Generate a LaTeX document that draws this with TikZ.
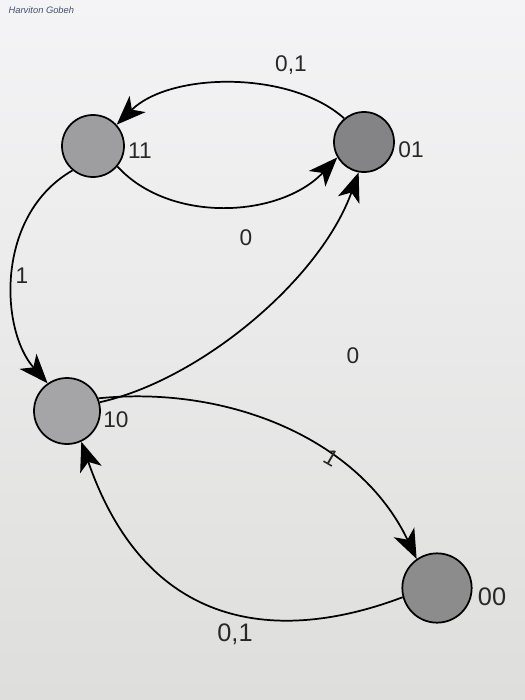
\documentclass[tikz,border=0pt]{standalone}
\usepackage{fontspec}
\setmainfont{Liberation Sans}
\usetikzlibrary{arrows.meta}
\definecolor{paperTop}{RGB}{244,244,246}
\definecolor{paperBot}{RGB}{222,222,220}
\definecolor{fillA}{RGB}{158,158,160}
\definecolor{fillB}{RGB}{132,132,134}
\definecolor{fillC}{RGB}{165,165,167}
\definecolor{fillD}{RGB}{140,140,140}
\definecolor{inkText}{RGB}{40,40,40}
\definecolor{pen}{RGB}{70,80,110}
\tikzset{
  state/.style={circle, draw=black, line width=1.3pt, inner sep=0pt},
  edge/.style={line width=1.3pt, -{Stealth[length=22pt,width=17pt,inset=6pt]}},
  lbl/.style={font=\fontsize{17}{19}\selectfont, text=inkText, inner sep=0pt},
  biglbl/.style={font=\fontsize{19}{21}\selectfont, text=inkText, inner sep=0pt},
}
\begin{document}
\begin{tikzpicture}[x=0.75pt,y=-0.75pt]
\useasboundingbox (0,0) rectangle (525,700);
\shade[top color=paperTop, bottom color=paperBot] (0,0) rectangle (525,700);
\node[font=\fontsize{7}{8}\selectfont\itshape, text=pen, anchor=west] (sig) at (4,10) {Harviton Gobeh};

\node[state, fill=fillA, minimum size=46.5pt] (n11) at (93,146) {};
\node[state, fill=fillB, minimum size=45pt] (n01) at (364,142) {};
\node[state, fill=fillC, minimum size=49.5pt] (n10) at (67,411) {};
\node[state, fill=fillD, minimum size=52pt] (n00) at (437,588) {};

\node[lbl] (t11) at (140,151) {11};
\node[lbl] (t01) at (411,150) {01};
\node[lbl] (t10) at (116,420) {10};
\node[biglbl] (t00) at (492,597) {00};

\draw[edge] (n01.130) .. controls (290,70) and (170,72) .. (n11.42);
\draw[edge] (n11.-40) .. controls (170,224) and (280,218) .. (n01.-150);
\draw[edge] (n11.-130) .. controls (-5,215) and (0,330) .. (n10.125);
\draw[edge] (n10.15) .. controls (200,380) and (320,280) .. (n01.-100);
\draw[edge] (n10.22) .. controls (230,385) and (360,440) .. (n00.125);
\draw[edge] (n00.195) .. controls (290,640) and (150,640) .. (n10.-65);

\node[lbl] (e1) at (291,65) {0,1};
\node[lbl] (e2) at (246,238) {0};
\node[lbl] (e3) at (22,276) {1};
\node[lbl] (e4) at (353,356) {0};
\node[lbl, rotate=-30] (e5) at (331,458) {1};
\node[biglbl] (e6) at (235,634) {0,1};
\end{tikzpicture}
\end{document}
